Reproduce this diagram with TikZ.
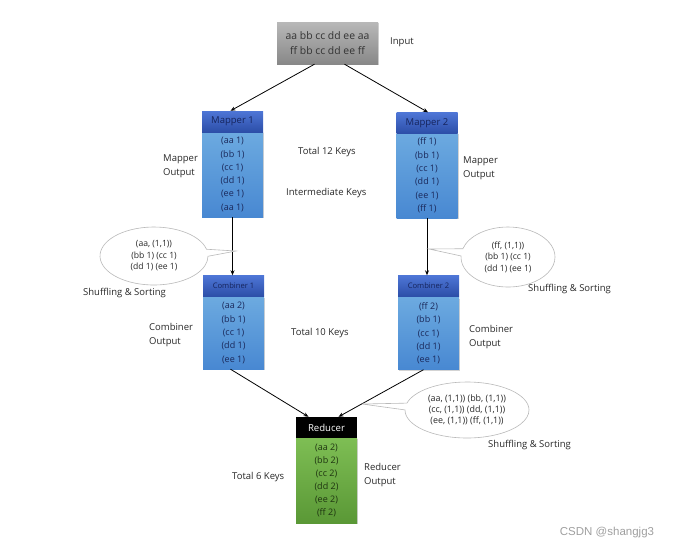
\documentclass[tikz,border=0pt]{standalone}
\usepackage{fontspec}
\setmainfont{Open Sans}
\newfontfamily\wmfont{Liberation Sans}
\usetikzlibrary{shapes.callouts,shadows,arrows.meta}
\definecolor{hdrtop}{RGB}{78,118,214}
\definecolor{hdrbot}{RGB}{44,78,168}
\definecolor{bodytop}{RGB}{108,170,224}
\definecolor{bodybot}{RGB}{72,136,210}
\definecolor{hdrtext}{RGB}{22,36,92}
\definecolor{bodytext}{RGB}{26,40,90}
\definecolor{grtop}{RGB}{126,190,84}
\definecolor{grbot}{RGB}{90,152,54}
\definecolor{grtext}{RGB}{30,52,16}
\definecolor{intop}{RGB}{184,184,184}
\definecolor{inbot}{RGB}{136,136,136}
\definecolor{lbl}{RGB}{40,40,40}
\begin{document}
\begin{tikzpicture}[x=1pt,y=-1pt,
  shad/.style={drop shadow={shadow xshift=1.2pt,shadow yshift=-1.2pt,opacity=0.35}},
  hdr/.style={rectangle,minimum width=61pt,minimum height=21pt,inner sep=0pt,
    top color=hdrtop,bottom color=hdrbot,text=hdrtext,font=\fontsize{9.5}{10}\selectfont},
  bodyb/.style={rectangle,minimum width=61pt,inner sep=0pt,align=center,
    top color=bodytop,bottom color=bodybot,text=bodytext,font=\fontsize{9}{13.3}\selectfont},
  rhdr/.style={rectangle,minimum width=61pt,minimum height=21pt,inner sep=0pt,
    fill=black,text=white,font=\fontsize{9.6}{10}\selectfont},
  rbody/.style={rectangle,minimum width=61pt,minimum height=85pt,inner sep=0pt,align=center,
    top color=grtop,bottom color=grbot,text=grtext,font=\fontsize{9}{13.1}\selectfont},
  lab/.style={inner sep=0pt,anchor=west,align=left,text=lbl,font=\fontsize{9.5}{14.5}\selectfont},
  bubble/.style={ellipse callout,draw=gray!55,fill=white,line width=0.6pt,inner sep=0pt,align=center,
    text=lbl,font=\fontsize{8.6}{11.5}\selectfont,callout pointer arc=14},
  arr/.style={-{Stealth[length=5pt,width=4pt]},line width=0.8pt}
]
\useasboundingbox (0,0) rectangle (677,550);

% Input
\node[shad,rectangle,minimum width=101pt,minimum height=42pt,inner sep=0pt,align=center,
  top color=intop,bottom color=inbot,text=black!80,font=\fontsize{10.4}{15}\selectfont]
  (in) at (327.5,43) {aa bb cc dd ee aa\\ff bb cc dd ee ff};
\node[lab] (inl) at (390,42) {Input};

% Mappers
\node[shad,bodyb,minimum height=85pt] (m1) at (232.5,174.5) {(aa 1)\\(bb 1)\\(cc 1)\\(dd 1)\\(ee 1)\\(aa 1)};
\node[hdr] (m1h) at (232.5,121.5) {Mapper 1};
\node[shad,bodyb,minimum height=85pt] (m2) at (427,175.5) {(ff 1)\\(bb 1)\\(cc 1)\\(dd 1)\\(ee 1)\\(ff 1)};
\node[hdr] (m2h) at (427,123) {Mapper 2};

% Combiners
\node[shad,bodyb,minimum height=72pt] (c1) at (233.5,333) {(aa 2)\\(bb 1)\\(cc 1)\\(dd 1)\\(ee 1)};
\node[hdr,font=\fontsize{7.6}{8}\selectfont] (c1h) at (233.5,286) {Combiner 1};
\node[shad,bodyb,minimum height=72pt] (c2) at (428.5,333.5) {(ff 2)\\(bb 1)\\(cc 1)\\(dd 1)\\(ee 1)};
\node[hdr,font=\fontsize{7.6}{8}\selectfont] (c2h) at (428.5,286) {Combiner 2};

% Reducer
\node[shad,rbody] (r) at (326.5,480.5) {(aa 2)\\(bb 2)\\(cc 2)\\(dd 2)\\(ee 2)\\(ff 2)};
\node[rhdr] (rh) at (326.5,427.5) {Reducer};

% Labels
\node[lab] (l1) at (163,166) {Mapper\\Output};
\node[lab] (l2) at (298,152) {Total 12 Keys};
\node[lab] (l3) at (286,193) {Intermediate Keys};
\node[lab] (l4) at (463,168) {Mapper\\Output};
\node[lab] (l5) at (149,335) {Combiner\\Output};
\node[lab] (l6) at (291,333) {Total 10 Keys};
\node[lab] (l7) at (469,337) {Combiner\\Output};
\node[lab] (l8) at (232,477) {Total 6 Keys};
\node[lab] (l9) at (364,475) {Reducer\\Output};
\node[lab] (s1) at (83,293) {Shuffling \& Sorting};
\node[lab] (s2) at (528,289) {Shuffling \& Sorting};
\node[lab] (s3) at (488,445) {Shuffling \& Sorting};

% Connectors
\draw[arr] ([xshift=-13pt]in.south) -- ([xshift=-2pt]m1h.north);
\draw[arr] ([xshift=17pt]in.south) -- ([xshift=1pt]m2h.north);
\draw[arr] (m1.south) -- (c1h.north -| m1.south);
\draw[arr] (m2.south) -- (c2h.north -| m2.south);
\draw[arr] ([xshift=-3pt]c1.south) -- ([xshift=-18pt]rh.north);
\draw[arr] ([xshift=-5pt]c2.south) -- ([xshift=12pt]rh.north);

% Callouts
\coordinate (p1) at (236,251);
\coordinate (p2) at (429,249);
\coordinate (p3) at (362,404);
\node[bubble,minimum width=108pt,minimum height=58pt,callout absolute pointer=(p1)] (b1) at (154,256)
  {(aa, (1,1))\\(bb 1) (cc 1)\\(dd 1) (ee 1)};
\node[bubble,minimum width=94pt,minimum height=60pt,callout absolute pointer=(p2)] (b2) at (508,257)
  {(ff, (1,1))\\(bb 1) (cc 1)\\(dd 1) (ee 1)};
\node[bubble,minimum width=124pt,minimum height=56pt,callout absolute pointer=(p3),
  font=\fontsize{8.9}{11.2}\selectfont] (b3) at (467,410)
  {(aa, (1,1)) (bb, (1,1))\\(cc, (1,1)) (dd, (1,1))\\(ee, (1,1)) (ff, (1,1))};

% Watermark
\node[inner sep=0pt,text=gray!75,font=\wmfont\fontsize{11.5}{12}\selectfont] (wm) at (607,533) {CSDN @shangjg3};
\end{tikzpicture}
\end{document}
